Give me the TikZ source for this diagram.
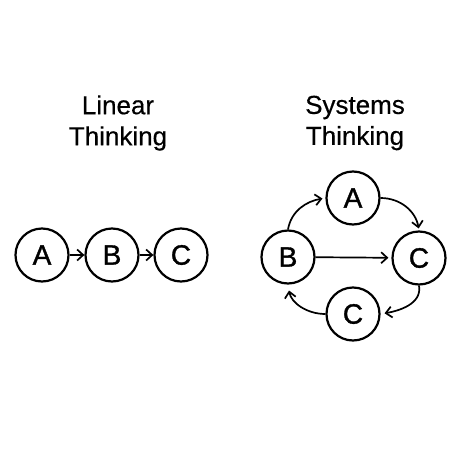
\documentclass[tikz,border=0pt]{standalone}
\usepackage{fontspec}
\setmainfont{Liberation Sans}
\newfontfamily\lettfont[FakeBold=1.2]{Liberation Sans}
\newfontfamily\ttlfont[FakeBold=0.4]{Liberation Sans}
\usetikzlibrary{arrows.meta}
\tikzset{
  ball/.style={circle, draw, line width=2.2pt, minimum size=53pt, inner sep=0pt,
               font=\lettfont\fontsize{28}{30}\selectfont},
  ttl/.style={align=center, font=\ttlfont\fontsize{26}{31}\selectfont},
  arr/.style={-{Straight Barb[length=6pt, width=11pt, line width=1.7pt]}, line width=1.7pt},
}
\begin{document}
\begin{tikzpicture}[x=1pt, y=-1pt]
  \useasboundingbox (0,0) rectangle (474,474);
  % titles
  \node[ttl] (tlin) at (118,123) {Linear\\Thinking};
  \node[ttl] (tsys) at (355,123) {Systems\\Thinking};
  % linear chain
  \node[ball] (la) at (42,255) {A};
  \node[ball] (lb) at (112,255) {B};
  \node[ball] (lc) at (181,255) {C};
  \draw[arr] (la) -- (lb);
  \draw[arr] (lb) -- (lc);
  % systems loop
  \node[ball] (sa) at (353,198) {A};
  \node[ball] (sb) at (288,257) {B};
  \node[ball] (sc) at (419,258) {C};
  \node[ball] (sd) at (353,314) {C};
  \draw[arr, shorten >=3pt] (sb.north) to[out=80, in=190] (sa.west);
  \draw[arr, shorten >=2pt] (sa.east) to[out=0, in=100] (sc.north);
  \draw[arr, shorten >=4pt] (sc.south) to[out=-80, in=10] (sd.east);
  \draw[arr, shorten >=6pt] (sd.west) to[out=180, in=-80] (sb.south);
  \draw[arr, shorten >=3pt] (sb) -- (sc);
\end{tikzpicture}
\end{document}
